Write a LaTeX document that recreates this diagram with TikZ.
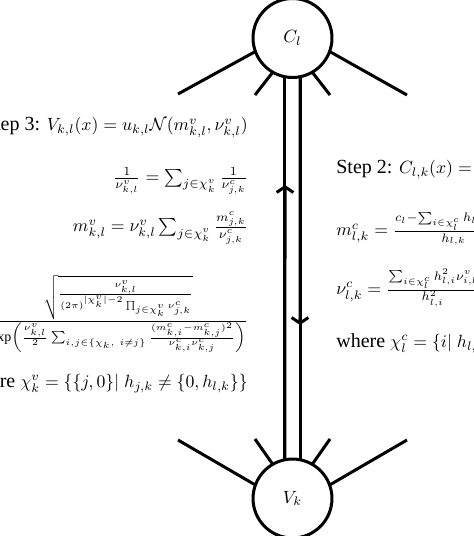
\documentclass[tikz,border=0pt]{standalone}
\usepackage{fontspec}
\setmainfont{Liberation Serif}[Scale=1.13]
\usepackage{amsmath, amssymb}
\usetikzlibrary{arrows.meta}

\begin{document}
\begin{tikzpicture}[x=0.565pt,y=-0.565pt,
	var/.style={circle, draw, line width=1.7pt, minimum size=44.6pt, inner sep=0pt, outer sep=0pt},
	edge/.style={line width=1.7pt},
	flow/.style={-{Straight Barb[length=3.2pt,width=9.5pt]}},
	eqL/.style={anchor=east, inner sep=0pt},
	eqR/.style={anchor=west, inner sep=0pt}]
%1. 画布范围
\useasboundingbox (0,0) rectangle (474,536);
\clip (0,0) rectangle (474,536);
%2. 两个节点
\node[var] (cl) at (292.5,38) {$C_l$};
\node[var] (vk) at (292.5,498.5) {$V_k$};
%3. 两条消息线
\coordinate (up) at (285,185);
\coordinate (down) at (300,325);
\draw[edge] (cl.259) -- (vk.101);
\draw[edge] (cl.281) -- (vk.79);
\draw[edge, flow] (vk.101) -- (up);
\draw[edge, flow] (cl.281) -- (down);
%4. 其余的边
\coordinate (clLL) at (178,94);
\coordinate (clLS) at (255,95);
\coordinate (clRS) at (330,95);
\coordinate (clRR) at (407,95);
\coordinate (vkLL) at (178,440);
\coordinate (vkLS) at (255,439);
\coordinate (vkRS) at (330,439);
\coordinate (vkRR) at (407,440);
\draw[edge] (cl.200) -- (clLL);
\draw[edge] (cl.240) -- (clLS);
\draw[edge] (cl.300) -- (clRS);
\draw[edge] (cl.340) -- (clRR);
\draw[edge] (vk.160) -- (vkLL);
\draw[edge] (vk.120) -- (vkLS);
\draw[edge] (vk.60) -- (vkRS);
\draw[edge] (vk.20) -- (vkRR);
%5. 左侧公式 (Step 3)
\node[eqL] (s3) at (248,128) {Step 3: $V_{k,l}(x) = u_{k,l}\mathcal{N}(m^v_{k,l}, \nu^v_{k,l})$};
\node[eqL] (nuv) at (248,181) {$\frac{1}{\nu^v_{k,l}} = \sum_{j\in\chi^v_k} \frac{1}{\nu^c_{j,k}}$};
\node[eqL] (mv) at (248,228) {$m^v_{k,l} = \nu^v_{k,l}\sum_{j\in\chi^v_k} \frac{m^c_{j,k}}{\nu^c_{j,k}}$};
\node[eqL] (uk) at (248,314) {$\frac{\sqrt{\frac{\nu^v_{k,l}}{(2\pi)^{|\chi^v_k|-2}\prod_{j\in\chi^v_k}\nu^c_{j,k}}}}{\exp\left(\frac{\nu^v_{k,l}}{2}\sum_{i,j\in\{\chi_k,\ i\neq j\}}\frac{(m^c_{k,i}-m^c_{k,j})^2}{\nu^c_{k,i}\nu^c_{k,j}}\right)}$};
\node[eqL] (wv) at (248,383) {where $\chi^v_k = \{\{j,0\}|\ h_{j,k} \neq \{0, h_{l,k}\}\}$};
%6. 右侧公式 (Step 2)
\node[eqR] (s2) at (336,171) {Step 2: $C_{l,k}(x) = u_{l,k}\mathcal{N}(m^c_{l,k}, \nu^c_{l,k})$};
\node[eqR] (mc) at (336,229) {$m^c_{l,k} = \frac{c_l-\sum_{i\in\chi^c_l} h_{l,i}m^v_{i,l}}{h_{l,k}}$};
\node[eqR] (nuc) at (336,288) {$\nu^c_{l,k} = \frac{\sum_{i\in\chi^c_l} h^2_{l,i}\nu^v_{i,l}}{h^2_{l,i}}$};
\node[eqR] (wc) at (336,343) {where $\chi^c_l = \{i|\ h_{l,i} \neq 0\}$};
\end{tikzpicture}
\end{document}
